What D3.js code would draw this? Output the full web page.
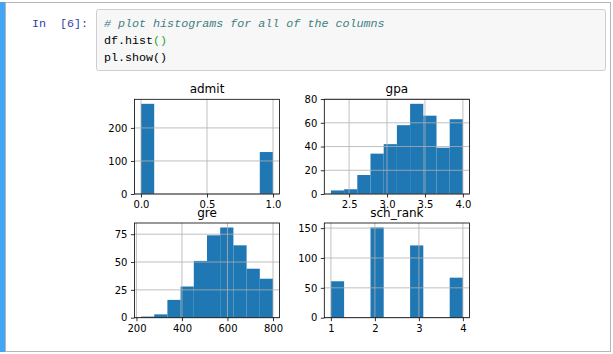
<!DOCTYPE html>
<html>
<head>
<meta charset="utf-8">
<script src="https://cdn.jsdelivr.net/npm/d3@7"></script>
<style>
  body { margin: 0; background: #fff; }
  svg { display: block; }
  .mpl text { font-family: "DejaVu Sans", sans-serif; }
  .code text { font-family: "Liberation Mono", monospace; font-size: 11.7px; }
</style>
</head>
<body>
<svg width="613" height="354"></svg>
<script>
// histogram columns (pandas df.hist, 10 equal bins over [min, max])
let names = ['admit', 'gpa', 'gre', 'sch_rank']
let ranges = [[0, 1], [2.26, 4.0], [220, 800], [1, 4]]
let admitCounts = [273, 0, 0, 0, 0, 0, 0, 0, 0, 127]
let gpaCounts = [3, 4, 16, 34, 42, 58, 76, 66, 39, 63]
let greCounts = [1, 3, 16, 28, 51, 74, 81, 65, 44, 35]
let rankCounts = [61, 0, 0, 151, 0, 0, 121, 0, 0, 67]
let counts = [admitCounts, gpaCounts, greCounts, rankCounts]

let xTicks = [[0, 0.5, 1], [2.5, 3, 3.5, 4], [200, 400, 600, 800], [1, 2, 3, 4]]
let yTicks = [[0, 100, 200], [0, 20, 40, 60, 80], [0, 25, 50, 75], [0, 50, 100, 150]]
let xFormats = ['.1f', '.1f', 'd', 'd']

let svg = d3.select('svg')

// notebook cell chrome
svg.append('rect').attr('x', 5.5).attr('y', 2.5).attr('width', 605).attr('height', 349)
    .attr('fill', '#fff').attr('stroke', '#b5b5b5')
svg.append('rect').attr('x', 0).attr('y', 2).attr('width', 5).attr('height', 350)
    .attr('fill', '#42a5f5')
svg.append('rect').attr('x', 96.5).attr('y', 9.5).attr('width', 509).attr('height', 61)
    .attr('fill', '#f7f7f7').attr('stroke', '#cfcfcf').attr('rx', 2)

let code = svg.append('g').attr('class', 'code')
code.append('text')
    .attr('x', 88).attr('y', 27)
    .attr('text-anchor', 'end')
    .style('white-space', 'pre')
    .attr('fill', '#303f9f')
    .text('In  [6]:')
code.append('text').attr('x', 104).attr('y', 27)
    .attr('fill', '#408080').style('font-style', 'italic')
    .text('# plot histograms for all of the columns')
let l2 = code.append('text').attr('x', 104).attr('y', 44)
l2.append('tspan').attr('fill', '#000').text('df.hist')
l2.append('tspan').attr('fill', '#2ca02c').text('()')
code.append('text').attr('x', 104).attr('y', 61).attr('fill', '#000').text('pl.show()')

// subplot grid (2 x 2), pandas uses wspace = hspace = 0.3
let plotLeft = 134.4
let plotTop = 99.3
let cellW = 145.2
let cellH = 94.7
let gapX = 44.7
let gapY = 29

let fig = svg.append('g').attr('class', 'mpl')

names.forEach((name, i) => {
    let col = i % 2
    let row = Math.floor(i / 2)
    let [lo, hi] = ranges[i]
    let binW = (hi - lo) / counts[i].length
    let bins = counts[i].map((c, k) => ({ x0: lo + k * binW, x1: lo + (k + 1) * binW, n: c }))

    let pad = (hi - lo) * 0.05
    let scale = {
        x: d3.scaleLinear().domain([lo - pad, hi + pad]).range([0, cellW]),
        y: d3.scaleLinear().domain([0, d3.max(counts[i]) * 1.05]).range([cellH, 0])
    }

    let g = fig.append('g')
        .attr('transform', `translate(${plotLeft + col * (cellW + gapX)}, ${plotTop + row * (cellH + gapY)})`)

    g.selectAll('.bar')
        .data(bins.filter(b => b.n > 0))
        .enter()
        .append('rect')
        .attr('class', 'bar')
        .attr('x', d => scale.x(d.x0))
        .attr('y', d => scale.y(d.n))
        .attr('width', d => scale.x(d.x1) - scale.x(d.x0))
        .attr('height', d => cellH - scale.y(d.n))
        .attr('fill', '#1f77b4')

    // grid over the bars, like matplotlib
    g.selectAll('.vgrid').data(xTicks[i]).enter().append('line')
        .attr('x1', d => scale.x(d)).attr('x2', d => scale.x(d))
        .attr('y1', 0).attr('y2', cellH)
        .attr('stroke', '#b0b0b0').attr('stroke-width', 0.8)
    g.selectAll('.hgrid').data(yTicks[i]).enter().append('line')
        .attr('y1', d => scale.y(d)).attr('y2', d => scale.y(d))
        .attr('x1', 0).attr('x2', cellW)
        .attr('stroke', '#b0b0b0').attr('stroke-width', 0.8)

    let axis = {
        x: d3.axisBottom(scale.x).tickValues(xTicks[i]).tickFormat(d3.format(xFormats[i]))
            .tickSize(3.5).tickPadding(3.5).tickSizeOuter(0),
        y: d3.axisLeft(scale.y).tickValues(yTicks[i]).tickFormat(d3.format('d'))
            .tickSize(3.5).tickPadding(3.5).tickSizeOuter(0)
    }

    let ax = g.append('g').attr('transform', `translate(0,${cellH})`).call(axis.x)
    let ay = g.append('g').call(axis.y)
    ;[ax, ay].forEach(a => {
        a.select('.domain').remove()
        a.selectAll('text').style('font-size', '10px').attr('fill', '#000')
        a.selectAll('line').attr('stroke', '#000').attr('stroke-width', 0.8)
    })

    // spines
    g.append('rect')
        .attr('width', cellW).attr('height', cellH)
        .attr('fill', 'none').attr('stroke', '#000').attr('stroke-width', 0.8)

    // title
    g.append('text')
        .attr('x', cellW / 2).attr('y', -6)
        .attr('text-anchor', 'middle')
        .style('font-size', '12px')
        .attr('fill', '#000')
        .text(name)
})
</script>
</body>
</html>
